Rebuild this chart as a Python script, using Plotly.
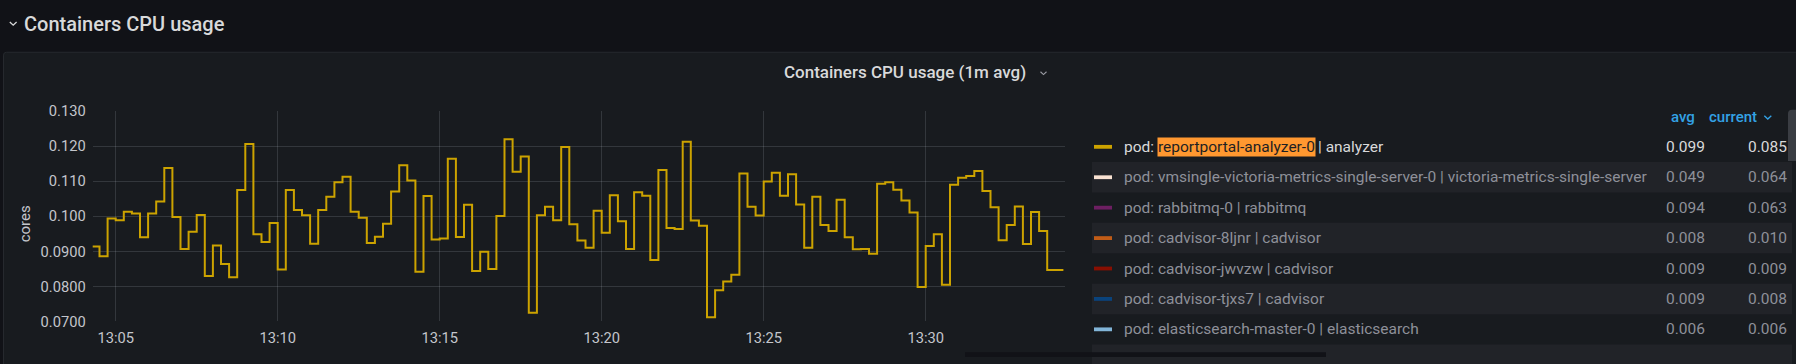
import pandas as pd
import plotly.graph_objects as go

# ---------------- data ----------------
start_time = "2023-01-01 13:04:15"
step_seconds = 15
cpu_values = [
    0.0914, 0.0886, 0.0994, 0.0989, 0.1013, 0.1008, 0.0940, 0.1008, 0.1042, 0.1138,
    0.0998, 0.0907, 0.0956, 0.1004, 0.0830, 0.0917, 0.0864, 0.0826, 0.1075, 0.1206,
    0.0949, 0.0927, 0.0981, 0.0848, 0.1075, 0.1018, 0.1003, 0.0922, 0.1018, 0.1056,
    0.1097, 0.1113, 0.1013, 0.0996, 0.0924, 0.0942, 0.0979, 0.1071, 0.1146, 0.1102,
    0.0842, 0.1058, 0.0934, 0.0937, 0.1164, 0.0941, 0.1033, 0.0844, 0.0899, 0.0850,
    0.1001, 0.1220, 0.1127, 0.1171, 0.0725, 0.1003, 0.1027, 0.0989, 0.1198, 0.0977,
    0.0931, 0.0910, 0.1016, 0.0953, 0.1060, 0.0986, 0.0907, 0.1069, 0.1059, 0.0875,
    0.1132, 0.0967, 0.0964, 0.1213, 0.0988, 0.0973, 0.0712, 0.0789, 0.0814, 0.0833,
    0.1122, 0.1027, 0.1002, 0.1099, 0.1124, 0.1059, 0.1120, 0.1034, 0.0910, 0.1056,
    0.0975, 0.0958, 0.1047, 0.0940, 0.0906, 0.0907, 0.0893, 0.1093, 0.1097, 0.1076,
    0.1045, 0.1011, 0.0798, 0.0915, 0.0949, 0.0805, 0.1090, 0.1110, 0.1115, 0.1129,
    0.1072, 0.1026, 0.0932, 0.0975, 0.1028, 0.0921, 0.1012, 0.0958, 0.0847, 0.0847,
    0.0847,
]
x_range = ["2023-01-01 13:04:17.4", "2023-01-01 13:34:17.4"]
y_tick_values = [0.070, 0.080, 0.090, 0.100, 0.110, 0.120, 0.130]
y_tick_labels = ["0.0700", "0.0800", "0.0900", "0.100", "0.110", "0.120", "0.130"]

legend_pods = ["reportportal-analyzer-0", "vmsingle-victoria-metrics-single-server-0",
               "rabbitmq-0", "cadvisor-8ljnr", "cadvisor-jwvzw", "cadvisor-tjxs7",
               "elasticsearch-master-0"]
legend_containers = ["analyzer", "victoria-metrics-single-server", "rabbitmq",
                     "cadvisor", "cadvisor", "cadvisor", "elasticsearch"]
legend_colors = ["#CCA300", "#F9E2D2", "#6D1F62", "#C15C17", "#890F02", "#0A437C", "#82B5D8"]
legend_avg = ["0.099", "0.049", "0.094", "0.008", "0.009", "0.009", "0.006"]
legend_current = ["0.085", "0.064", "0.063", "0.010", "0.009", "0.008", "0.006"]

section_title = "Containers CPU usage"
panel_title = "Containers CPU usage (1m avg)"
y_title = "cores"

# ---------------- styling ----------------
W, H = 1796, 364
FONT = "Roboto"
PAGE_BG = "#111217"
PANEL_BG = "#181b1f"
TEXT = "#d8d9da"
AXIS_TEXT = "#c4c6cc"
DIM_TEXT = "#8e9099"
BLUE = "#33a2e5"
GRID = "rgba(240,250,255,0.13)"
LEG_FS = 15.5
TICK_FS = 14.7


def px(x):
    return x / W


def py(y):
    return 1 - y / H


times = pd.date_range(start=start_time, periods=len(cpu_values), freq=f"{step_seconds}s")

fig = go.Figure()
fig.add_trace(go.Scatter(
    x=times, y=cpu_values, mode="lines",
    line=dict(color=legend_colors[0], width=2, shape="hv"),
    hoverinfo="skip", showlegend=False,
))

shapes = []
annotations = []

# panel background
shapes.append(dict(type="path", xref="paper", yref="paper", layer="below",
                   path=f"M {px(3.5)} {py(400)} L {px(3.5)} {py(48.5)} Q {px(3.5)} {py(45.5)} {px(6.5)} {py(45.5)} "
                        f"L {px(1800)} {py(45.5)} L {px(1800)} {py(400)} Z",
                   fillcolor=PANEL_BG, line=dict(color="#26292e", width=1)))

# section header chevron + text
shapes.append(dict(type="path", xref="paper", yref="paper",
                   path=f"M {px(9.8)} {py(13.6)} L {px(13.2)} {py(17.0)} L {px(16.6)} {py(13.6)}",
                   line=dict(color=TEXT, width=1.3)))
annotations.append(dict(text=section_title, x=px(22), y=py(15.5), xref="paper", yref="paper",
                        xanchor="left", yanchor="middle", showarrow=False,
                        font=dict(family=FONT, size=20, color=TEXT, weight=500)))

# panel title + chevron
annotations.append(dict(text=panel_title, x=px(905), y=py(66), xref="paper", yref="paper",
                        xanchor="center", yanchor="middle", showarrow=False,
                        font=dict(family=FONT, size=17, color=TEXT, weight=500)))
shapes.append(dict(type="path", xref="paper", yref="paper",
                   path=f"M {px(1040.5)} {py(66)} L {px(1043.5)} {py(69)} L {px(1046.5)} {py(66)}",
                   line=dict(color="#9a9ca3", width=1.1)))

# y-axis title
annotations.append(dict(text=y_title, x=px(24.5), y=py(226), xref="paper", yref="paper",
                        xanchor="center", yanchor="middle", showarrow=False, textangle=-90,
                        font=dict(family=FONT, size=15, color=AXIS_TEXT)))

# legend header
annotations.append(dict(text="avg", x=px(1697), y=py(114), xref="paper", yref="paper",
                        xanchor="right", yanchor="middle", showarrow=False,
                        font=dict(family=FONT, size=15, color=BLUE, weight=500)))
annotations.append(dict(text="current", x=px(1758.5), y=py(114), xref="paper", yref="paper",
                        xanchor="right", yanchor="middle", showarrow=False,
                        font=dict(family=FONT, size=15, color=BLUE, weight=500)))
shapes.append(dict(type="path", xref="paper", yref="paper",
                   path=f"M {px(1764.3)} {py(112.3)} L {px(1767.8)} {py(115.8)} L {px(1771.3)} {py(112.3)}",
                   line=dict(color=BLUE, width=1.3)))

# legend rows
row0, row_h = 145, 32
for i in range(8):
    if i % 2 == 1:
        cy = row0 + i * row_h
        shapes.append(dict(type="rect", xref="paper", yref="paper", layer="below",
                           x0=px(1092), x1=px(1792), y0=py(cy - 16), y1=py(cy + 16),
                           fillcolor="#212328", line=dict(width=0)))

for i, (pod, cont, col, av, cur) in enumerate(zip(legend_pods, legend_containers, legend_colors,
                                                   legend_avg, legend_current)):
    cy = row0 + i * row_h
    shapes.append(dict(type="rect", xref="paper", yref="paper",
                       x0=px(1094), x1=px(1112), y0=py(cy - 2), y1=py(cy + 2),
                       fillcolor=col, line=dict(width=0)))
    tcol = TEXT if i == 0 else DIM_TEXT
    if i == 0:
        annotations.append(dict(text="pod: ", x=px(1122), y=py(cy), xref="paper", yref="paper",
                                xanchor="left", yanchor="middle", showarrow=False,
                                font=dict(family=FONT, size=LEG_FS, color=tcol)))
        annotations.append(dict(text=pod, x=px(1157), y=py(cy), xref="paper", yref="paper",
                                xanchor="left", yanchor="middle", showarrow=False,
                                bgcolor="#FF9830", borderpad=0,
                                font=dict(family=FONT, size=LEG_FS, color="#1d1f23")))
        annotations.append(dict(text=f"| {cont}", x=px(1316), y=py(cy), xref="paper", yref="paper",
                                xanchor="left", yanchor="middle", showarrow=False,
                                font=dict(family=FONT, size=LEG_FS, color=tcol)))
    else:
        annotations.append(dict(text=f"pod: {pod} | {cont}", x=px(1122), y=py(cy), xref="paper",
                                yref="paper", xanchor="left", yanchor="middle", showarrow=False,
                                font=dict(family=FONT, size=LEG_FS, color=tcol)))
    annotations.append(dict(text=av, x=px(1706.5), y=py(cy), xref="paper", yref="paper",
                            xanchor="right", yanchor="middle", showarrow=False,
                            font=dict(family=FONT, size=LEG_FS, color=tcol)))
    annotations.append(dict(text=cur, x=px(1789), y=py(cy), xref="paper", yref="paper",
                            xanchor="right", yanchor="middle", showarrow=False,
                            font=dict(family=FONT, size=LEG_FS, color=tcol)))

# legend scrollbar
shapes.append(dict(type="path", xref="paper", yref="paper",
                   path=f"M {px(1788)} {py(110)} Q {px(1788)} {py(106)} {px(1792)} {py(106)} "
                        f"L {px(1796)} {py(106)} L {px(1796)} {py(160)} L {px(1788)} {py(160)} Z",
                   fillcolor="#3a3d43", line=dict(width=0)))
# small dark strip at bottom
shapes.append(dict(type="rect", xref="paper", yref="paper",
                   x0=px(965), x1=px(1326), y0=py(361), y1=py(366),
                   fillcolor=PAGE_BG, line=dict(width=0)))

fig.update_layout(
    width=W, height=H,
    margin=dict(l=0, r=0, t=0, b=0),
    paper_bgcolor=PAGE_BG,
    plot_bgcolor="rgba(0,0,0,0)",
    font=dict(family=FONT, color=AXIS_TEXT, size=14),
    shapes=shapes,
    annotations=annotations,
    xaxis=dict(
        domain=[px(92.7), px(1064.7)],
        type="date", range=x_range,
        dtick=300000, tick0="2023-01-01 13:00:00", tickformat="%H:%M",
        showgrid=True, gridcolor=GRID, gridwidth=1,
        zeroline=False, showline=False, ticks="",
        ticklabelstandoff=6,
        tickfont=dict(family=FONT, size=TICK_FS, color=AXIS_TEXT),
        fixedrange=True,
    ),
    yaxis=dict(
        domain=[py(328.7), py(107.5)],
        range=[0.070, 0.130],
        tickmode="array", tickvals=y_tick_values, ticktext=y_tick_labels,
        showgrid=True, gridcolor=GRID, gridwidth=1,
        zeroline=False, showline=False, ticks="",
        ticklabelstandoff=6,
        tickfont=dict(family=FONT, size=TICK_FS, color=AXIS_TEXT),
        fixedrange=True,
    ),
    showlegend=False,
)

fig.write_html("out.html", config={"displayModeBar": False})
